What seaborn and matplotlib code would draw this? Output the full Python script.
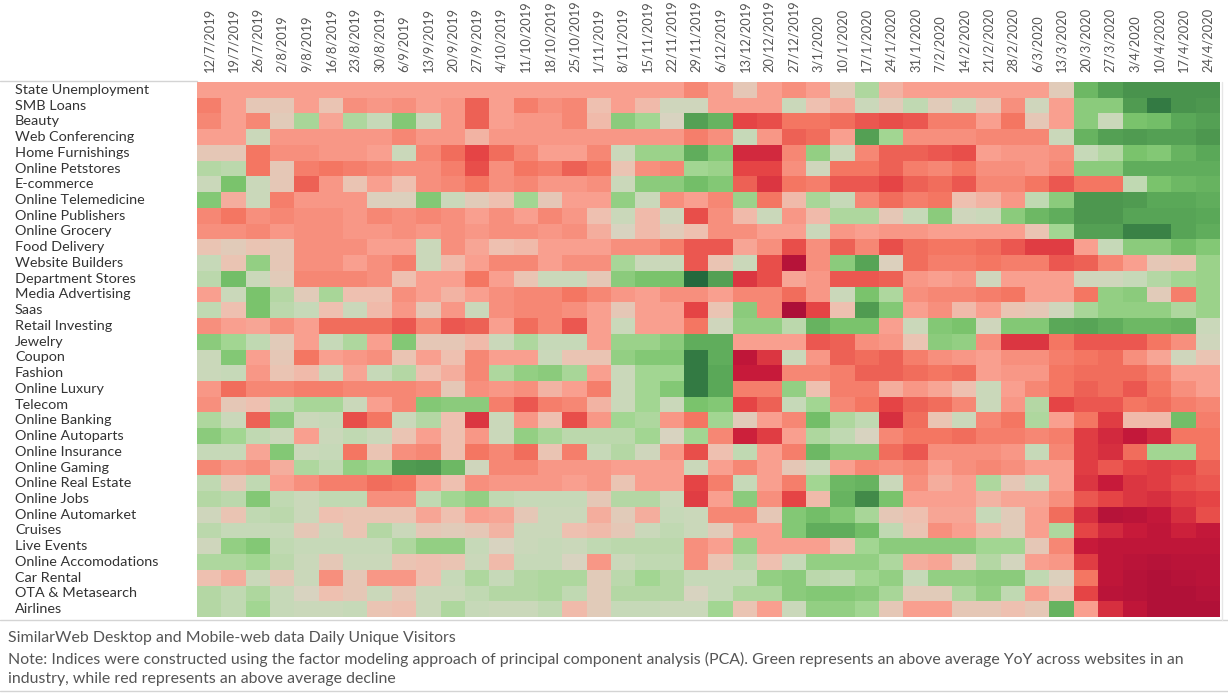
import matplotlib
matplotlib.use("Agg")
import matplotlib.pyplot as plt
from matplotlib.colors import LinearSegmentedColormap
from matplotlib.lines import Line2D
import numpy as np
import pandas as pd
import seaborn as sns

dates = ["12/7/2019", "19/7/2019", "26/7/2019", "2/8/2019", "9/8/2019", "16/8/2019",
         "23/8/2019", "30/8/2019", "6/9/2019", "13/9/2019", "20/9/2019", "27/9/2019",
         "4/10/2019", "11/10/2019", "18/10/2019", "25/10/2019", "1/11/2019", "8/11/2019",
         "15/11/2019", "22/11/2019", "29/11/2019", "6/12/2019", "13/12/2019", "20/12/2019",
         "27/12/2019", "3/1/2020", "10/1/2020", "17/1/2020", "24/1/2020", "31/1/2020",
         "7/2/2020", "14/2/2020", "21/2/2020", "28/2/2020", "6/3/2020", "13/3/2020",
         "20/3/2020", "27/3/2020", "3/4/2020", "10/4/2020", "17/4/2020", "24/4/2020"]

industries = ["State Unemployment", "SMB Loans", "Beauty", "Web Conferencing",
              "Home Furnishings", "Online Petstores", "E-commerce", "Online Telemedicine",
              "Online Publishers", "Online Grocery", "Food Delivery", "Website Builders",
              "Department Stores", "Media Advertising", "Saas", "Retail Investing", "Jewelry",
              "Coupon", "Fashion", "Online Luxury", "Telecom", "Online Banking",
              "Online Autoparts", "Online Insurance", "Online Gaming", "Online Real Estate",
              "Online Jobs", "Online Automarket", "Cruises", "Live Events",
              "Online Accomodations", "Car Rental", "OTA & Metasearch", "Airlines"]

# PCA index values per industry (one per week)
state_unemployment = [-1.0, -1.0, -1.0, -1.0, -1.0, -1.0, -1.0, -1.0, -1.0, -1.0, -1.0, -1.0, -1.0, -1.0,
                      -1.0, -1.0, -1.0, -1.0, -1.0, -1.0, -1.3, -1.0, -0.3, -1.0, -1.2, -1.0, -0.2, 0.8,
                      -0.7, -1.0, -1.0, -1.0, -1.0, -1.0, -1.0, -0.2, 1.7, 2.2, 2.5, 2.5, 2.5, 2.5]
smb_loans = [-1.4, -1.0, -0.3, -0.3, -1.0, -0.4, -1.2, -1.1, -1.2, -1.0, -1.1, -1.7, -1.0, -1.4,
             -1.2, -1.3, -0.5, -1.0, -0.6, 0.2, 0.2, -1.0, -1.0, -1.0, 0.3, -0.5, -0.8, 0.3,
             -0.2, 0.5, -0.2, 0.3, -0.3, -1.2, 0.2, -1.0, 1.3, 1.3, 2.3, 2.8, 2.5, 2.4]
beauty = [-1.3, -1.0, -1.3, -0.2, 0.9, -0.9, 0.8, 0.4, 1.4, 0.3, -1.1, -1.7, -1.0, -1.1,
          -1.1, -1.3, -0.6, 1.3, 1.0, 0.0, 2.2, 1.8, -2.0, -1.9, -1.5, -1.5, -1.6, -1.8,
          -1.9, -1.8, -1.4, -1.4, -1.0, -1.5, -0.3, -1.0, 1.3, 0.3, 1.5, 1.6, 2.0, 2.2]
web_conferencing = [-1.0, -1.0, 0.3, -1.1, -1.1, -1.1, -1.1, -1.1, -1.3, -1.1, -1.1, -0.7, -1.1, -1.1,
                    -1.1, -1.1, -1.1, -1.1, -1.1, -1.1, -1.4, -1.2, 0.4, -1.1, -1.7, -1.6, -1.0, 2.2,
                    1.0, -1.2, -1.2, -1.2, -1.3, -1.3, -1.3, 0.3, 1.8, 2.2, 2.3, 2.2, 2.2, 2.4]
home_furnishings = [-0.3, -0.3, -1.5, -1.2, -1.2, -1.1, -1.1, -1.0, 0.3, -1.3, -1.6, -2.0, -1.6, -1.3,
                    -1.0, -1.0, -1.3, 0.3, 1.1, 1.1, 1.9, 1.4, -2.4, -2.4, -1.3, 1.2, 0.3, -1.3,
                    -1.7, -1.7, -1.8, -1.9, -1.0, -1.1, -1.1, -1.2, 0.4, 0.7, 1.5, 1.4, 1.8, 2.0]
online_petstores = [0.7, 0.6, -1.5, -0.3, -1.4, -1.5, -1.4, -1.3, -1.2, -1.2, -1.4, -1.9, -1.2, -1.5,
                    -1.4, -1.7, -1.5, -0.4, -1.2, -1.3, 1.0, 1.1, -2.0, -2.0, -1.2, 0.2, -1.5, -1.5,
                    -1.7, -1.4, -1.3, -1.5, -1.2, -1.2, -1.1, -1.3, 1.3, 1.3, 1.9, 1.9, 1.9, 1.9]
e_commerce = [0.3, 1.5, 0.3, -0.3, -1.7, -1.1, -0.4, -1.0, -0.5, -1.2, -1.3, -1.5, -1.2, -1.3,
              -1.1, -1.1, -1.2, 0.3, 1.3, 1.3, 1.6, 1.4, -1.7, -2.2, -1.5, -1.4, -1.8, -1.8,
              -2.0, -1.7, -1.6, -1.8, -1.3, -1.3, -1.5, -1.8, -1.5, -1.5, 0.5, 1.5, 1.7, 1.8]
online_telemedicine = [1.4, -0.8, 0.3, -1.4, -1.1, -1.1, -1.1, -0.1, -0.1, 1.4, 0.3, -0.2, -0.5, 1.0,
                       -0.3, -1.0, -1.0, 1.2, 0.3, -1.2, -1.0, -1.3, 1.1, -1.5, -0.6, 0.9, 0.4, -1.3,
                       -1.6, -1.4, -1.5, -0.5, -0.7, -1.1, 0.5, 1.3, 2.4, 2.4, 2.3, 2.0, 2.0, 1.9]
online_publishers = [-1.3, -1.5, -1.2, -1.3, -1.2, -1.2, -1.1, -1.3, -1.2, -1.3, -1.2, -1.0, -1.2, -1.0,
                     -1.3, -1.1, -0.5, 0.3, -0.6, 0.2, -1.9, -1.2, -0.6, 0.3, -1.1, -0.6, 0.8, 0.8,
                     -0.3, 0.4, 1.3, 0.2, 0.3, 1.3, 1.7, 1.9, 2.4, 2.4, 2.1, 2.1, 2.1, 2.0]
online_grocery = [-1.2, -1.2, -1.3, -1.1, -1.2, -1.2, -1.1, -1.1, -1.2, -1.1, -1.2, -1.1, -1.2, -1.2,
                  -1.1, -1.2, -0.8, 0.0, -0.6, -0.2, -0.5, -1.2, -1.2, -1.0, -1.0, 0.3, -1.1, -1.0,
                  -1.1, -1.1, -1.0, -1.0, -1.0, -1.0, -0.4, 1.0, 2.2, 2.2, 2.7, 2.7, 2.1, 1.9]
food_delivery = [-0.4, -0.2, -0.4, -0.3, -1.2, -1.2, -1.2, -1.0, -1.0, 0.3, -1.2, -0.9, -0.5, -0.6,
                 -1.0, -1.0, -1.0, -1.2, -1.2, -1.4, -1.8, -1.8, -0.9, -1.2, -1.9, -1.2, -1.7, -1.3,
                 -1.9, -1.6, -1.5, -1.5, -1.6, -1.8, -2.1, -2.1, -1.0, 0.4, 1.3, 1.3, 1.6, 1.4]
website_builders = [0.4, -0.4, 1.2, -0.3, -1.2, -1.2, -1.0, -1.2, -1.4, 0.3, -0.6, -1.0, -1.3, -1.3,
                    -1.0, -1.2, -1.2, 0.9, 0.3, 0.3, -1.8, -0.4, 0.3, -1.9, -3.0, -1.2, 1.3, 2.1,
                    -0.1, -1.6, -1.4, -1.4, -1.5, -1.4, -1.4, -1.8, -1.7, -1.3, -1.0, -0.3, -0.4, 1.1]
department_stores = [0.6, 1.6, 0.3, -0.2, -1.3, -1.3, -1.3, -1.2, -0.5, -1.0, -1.0, -1.5, -1.0, -0.4,
                     0.3, 0.3, -0.3, 1.3, 1.5, 1.5, 3.0, 2.2, -2.2, -1.9, -0.9, -1.1, -1.8, -1.8,
                     -1.7, -1.1, -1.0, -1.1, 0.2, -1.0, -1.0, -1.0, 0.2, 0.2, 0.4, 0.7, 1.0, 1.1]
media_advertising = [-1.0, 0.3, 1.5, 0.7, -0.2, 0.9, -0.5, -0.5, -1.2, -1.0, -0.7, -1.0, -1.2, -1.3,
                     -1.3, -1.5, -1.3, -1.1, -1.0, -1.2, -1.2, -1.0, -1.3, -1.3, -1.6, -1.1, 0.3, 1.5,
                     0.8, -1.2, -1.3, -1.3, -1.4, -1.5, -1.0, -1.0, -1.5, 1.2, 1.3, -0.2, -1.4, 1.1]
saas = [0.5, -0.5, 1.5, 0.6, 0.4, -0.5, 0.3, -0.6, -1.1, -0.3, -1.1, 0.3, -1.2, -1.3,
        -1.3, -1.2, -1.0, -0.3, -1.0, -1.0, -2.0, -0.4, 1.3, -1.3, -3.2, -2.0, -0.5, 2.3,
        1.4, -1.0, -1.2, -0.6, -1.0, -0.4, -0.3, 0.2, 0.9, 1.2, 1.2, 1.2, 0.8, 1.1]
retail_investing = [-1.2, -1.0, -0.9, -1.2, -1.0, -1.6, -1.6, -1.6, -1.8, -1.3, -1.8, -1.7, -1.0, -1.6,
                    -1.3, -1.8, -1.0, 0.3, -1.0, -1.0, -1.5, 0.2, 1.2, 1.2, 0.6, 1.8, 1.5, 1.5,
                    -1.0, 0.3, 1.4, 1.5, 0.2, 1.4, 1.4, 2.0, 2.1, 1.9, 1.7, 1.7, 1.8, 0.3]
jewelry = [1.3, 1.0, 0.5, -0.2, -1.0, 0.4, 0.8, -1.0, 1.4, -0.3, -0.3, -0.6, 0.3, 0.8,
           0.4, 0.4, -1.0, 1.1, 1.1, 1.3, 1.9, 1.9, -1.0, -1.0, -1.0, -1.8, -1.7, -1.2,
           -1.1, -0.4, 1.3, 1.2, -1.2, -2.2, -2.2, -1.5, -1.8, -1.8, -1.8, -1.5, -1.2, 0.2]
coupon = [0.3, 1.4, -1.0, -0.3, -1.5, -1.0, -1.1, -1.2, -0.4, -1.0, -0.5, -1.3, -1.0, -1.0,
          0.3, -0.4, -0.4, 1.2, 1.4, 1.4, 2.8, 1.9, -2.8, -2.2, 0.3, -1.1, -1.7, -1.6,
          -1.7, -1.4, -1.2, -1.1, -1.0, -1.2, -1.2, -1.4, -1.5, -1.6, -1.2, -0.9, 0.2, -0.4]
fashion = [0.3, 0.4, -1.1, -0.4, -0.6, 0.3, -0.9, 0.4, 0.7, -0.5, -0.8, -1.3, 0.8, 1.2,
           1.3, 0.9, -1.0, 0.3, 1.0, 1.0, 2.8, 2.0, -2.6, -2.6, -1.3, -1.3, -1.4, -1.7,
           -1.7, -1.6, -1.5, -1.6, -1.0, -1.1, -1.1, -1.5, -1.6, -1.6, -1.6, -1.4, -1.0, -1.0]
online_luxury = [-1.1, -1.6, -1.3, -1.3, -1.4, -1.4, -1.3, -1.3, -1.3, -1.2, -0.3, -1.2, -1.1, -1.2,
                 -0.7, -1.0, -1.4, 0.3, 1.0, 1.4, 2.8, 2.0, -1.4, -1.4, 1.2, -0.5, -1.4, -1.4,
                 -0.8, -1.1, -0.9, -0.5, 0.3, -1.0, -1.3, -1.5, -1.7, -1.6, -1.8, -1.5, -1.2, -1.0]
telecom = [-1.2, -0.3, -0.5, 0.5, 0.9, 0.9, 0.3, -1.0, -1.3, 1.4, 1.3, 1.3, -1.4, -1.8,
           -1.4, -1.3, -0.7, 0.3, 1.0, 0.3, 1.5, 1.4, -2.0, -1.7, 0.4, 1.0, -1.3, -1.5,
           -2.0, -1.7, -1.6, -1.3, 0.3, -1.1, 0.7, -2.0, -1.8, -1.8, -1.5, -1.6, -1.4, -1.3]
online_banking = [0.8, 0.3, -1.7, 1.3, 0.3, 0.4, -1.9, -1.5, 0.3, 0.7, -0.5, -2.2, 0.3, -1.1,
                  -0.5, -1.9, -1.1, 1.0, 0.8, -1.1, -1.5, 1.0, -0.2, -1.0, -1.3, 1.6, 0.8, 0.5,
                  -2.3, -1.6, -0.4, 0.3, -1.3, -1.5, 0.8, -1.0, -1.5, -2.1, -0.6, -0.6, 1.6, -1.4]
online_autoparts = [1.3, 1.0, 0.5, 0.3, -1.0, 0.3, 0.5, 0.3, -0.4, -1.0, -0.5, -1.1, 0.3, 1.2,
                    0.9, 0.6, 0.6, 0.6, 1.0, 0.0, 1.0, -1.3, -2.5, -2.1, -1.0, 0.8, 0.5, 0.0,
                    -1.3, -1.5, -1.5, -1.6, -1.4, -1.4, -1.3, -1.4, -2.1, -2.4, -2.7, -2.4, -1.5, -1.5]
online_insurance = [0.4, 0.4, -0.9, 1.4, 0.3, 0.4, -1.5, -0.4, -1.2, -1.3, -0.5, -1.5, -1.3, -1.6,
                    -0.4, -1.4, 0.4, 0.7, 0.2, -1.1, -1.9, -0.5, 0.5, -1.0, -1.4, 1.7, 1.3, 1.3,
                    -1.6, -1.8, -1.2, -1.2, -1.2, -1.1, 0.4, -1.3, -2.1, -2.3, -1.6, 1.0, 1.0, -1.5]
online_gaming = [-1.3, -1.1, -1.2, -0.8, 0.8, 0.5, 1.2, 1.0, 2.3, 2.4, 1.7, 0.2, -1.3, -1.3,
                 -1.1, -1.1, -1.1, -1.0, -1.0, -1.0, 0.3, -1.0, -1.3, -1.0, -0.3, 0.3, -1.0, -1.3,
                 -1.2, -1.3, -1.0, -1.2, -1.3, -1.2, -1.0, -1.0, -2.1, -1.8, -2.0, -2.1, -2.0, -1.7]
online_real_estate = [0.5, -0.3, 0.5, -1.0, -1.2, -1.4, -1.4, -1.6, -1.5, -1.0, -0.5, -1.2, -1.1, -1.1,
                      -1.1, -1.0, -1.1, -0.4, -1.0, -1.0, -2.0, -1.4, 0.4, -1.0, -1.4, 1.0, 1.7, 1.8,
                      0.3, -1.2, -0.8, -1.0, 0.8, -0.3, 0.3, -1.0, -2.2, -2.6, -2.2, -2.1, -1.9, -1.8]
online_jobs = [0.7, 0.6, 1.4, 0.5, 0.3, 0.5, 0.5, -1.2, -1.2, 0.5, 1.0, 1.2, 0.5, 0.4,
               0.4, 0.4, -0.3, 0.7, 0.7, 0.3, -2.1, -1.0, 1.3, -1.2, -2.0, -0.6, 1.8, 2.6,
               1.5, -1.0, -1.0, -1.0, -0.7, -0.9, -0.9, -1.2, -1.8, -2.0, -2.2, -2.3, -2.1, -2.0]
online_automarket = [0.2, -0.4, 0.5, 0.6, 0.3, -0.5, -0.4, -0.4, -0.4, -0.9, -0.5, -1.0, -0.9, -0.3,
                     0.3, 0.3, -0.8, -0.2, -0.8, 0.4, 0.3, -1.3, -1.3, -0.3, 1.4, 1.6, 1.4, 0.9,
                     -0.3, -0.5, -0.9, -0.9, 0.4, -0.2, -1.0, -1.6, -2.3, -3.0, -2.9, -2.7, -2.3, -1.9]
cruises = [0.6, 0.4, 0.4, 0.4, -0.3, 0.3, -0.4, 0.7, 0.3, -0.3, -0.2, -0.3, -0.7, 0.3,
           0.3, -0.5, -0.6, -0.3, 0.3, 0.5, 0.3, -0.2, -1.0, -1.0, 1.4, 1.9, 1.9, 1.6,
           0.5, -0.4, -1.2, -1.0, -0.6, -0.2, -1.0, 0.8, -2.0, -2.4, -2.6, -2.8, -2.5, -2.7]
live_events = [0.2, 1.2, 1.4, 0.5, 0.4, 0.4, 0.4, 0.4, 0.8, 1.2, 1.2, 0.4, 0.0, 0.3,
               0.4, 0.3, 0.5, 0.6, 0.6, 0.6, -1.2, -1.0, 1.1, -1.0, -1.0, -1.0, -0.5, 1.0,
               1.3, 1.3, 1.3, 1.3, 1.0, 1.0, -0.3, -1.3, -2.6, -2.8, -2.8, -2.8, -2.8, -2.8]
online_accomodations = [0.8, 0.8, 1.0, 0.6, 0.3, -0.3, 0.3, 0.3, -0.4, -0.5, -0.4, 0.3, -0.6, 0.4,
                        0.4, 0.0, -1.1, 0.3, 0.5, 0.5, -1.2, -0.4, 0.6, -0.5, 0.4, 1.2, 1.2, 1.2,
                        0.8, -0.8, -0.9, -0.2, 0.7, 0.1, -1.0, -1.1, -2.1, -2.8, -2.9, -3.0, -2.9, -2.9]
car_rental = [-0.5, -0.8, 0.3, -0.3, 0.3, -1.2, -0.3, -1.1, -1.1, -0.5, 0.4, 0.8, 0.4, 0.7,
              0.8, 0.8, -0.2, 0.6, 1.0, 0.7, 0.4, 0.4, 0.4, 1.2, 1.3, 0.6, 0.5, 1.0,
              1.2, 0.4, 1.2, 1.2, 1.3, 1.3, 0.5, -0.1, -1.5, -2.8, -3.0, -3.1, -3.0, -2.9]
ota_metasearch = [0.7, 0.5, 0.8, 0.4, 0.0, -0.5, -0.3, 0.3, -0.3, 0.3, 0.3, 0.5, 0.7, 0.7,
                  0.8, 0.5, -0.2, 0.7, 0.7, 0.7, 0.0, 0.4, 0.8, 0.8, 1.3, 1.4, 1.4, 1.3,
                  0.9, -0.2, -0.2, 0.8, 1.2, 0.5, -1.0, -0.5, -2.0, -2.9, -3.0, -3.1, -3.1, -3.0]
airlines = [0.7, 0.5, 1.0, 0.4, 0.3, 0.3, 0.4, -0.4, -0.5, 0.3, 0.8, 0.4, 0.3, 0.3,
            0.5, -0.6, -0.2, 0.4, 0.4, 0.3, 0.3, 1.0, -0.4, -1.0, 0.3, 1.2, 1.2, 1.0,
            -0.3, -1.0, -1.0, -0.3, -0.3, -0.5, -0.3, 1.8, -1.0, -2.3, -2.8, -3.1, -3.1, -3.1]

rows = [state_unemployment, smb_loans, beauty, web_conferencing, home_furnishings,
        online_petstores, e_commerce, online_telemedicine, online_publishers, online_grocery,
        food_delivery, website_builders, department_stores, media_advertising, saas,
        retail_investing, jewelry, coupon, fashion, online_luxury, telecom, online_banking,
        online_autoparts, online_insurance, online_gaming, online_real_estate, online_jobs,
        online_automarket, cruises, live_events, online_accomodations, car_rental,
        ota_metasearch, airlines]

df = pd.DataFrame(np.array(rows), index=industries, columns=dates)

vmin, vmax = -3.2, 3.0
nodes = [(-3.2, "#ad0f38"), (-2.6, "#c81a3a"), (-2.0, "#e54545"), (-1.5, "#f47662"),
         (-1.0, "#f9a090"), (-0.5, "#eec0b0"), (0.0, "#d8d3c0"), (0.4, "#c6d9b8"),
         (1.0, "#a3d692"), (1.5, "#7bc46d"), (2.0, "#5aa858"), (2.5, "#4a944d"),
         (3.0, "#24693d")]
cmap = LinearSegmentedColormap.from_list(
    "tab_rg", [((v - vmin) / (vmax - vmin), c) for v, c in nodes])

sns.set_theme(style="white")
plt.rcParams["font.family"] = ["Lato", "DejaVu Sans"]

W, H = 1228, 694
fig = plt.figure(figsize=(W / 100, H / 100), dpi=100)
x0, x1, y0, y1 = 197, 1220, 82, 617
ax = fig.add_axes([x0 / W, 1 - y1 / H, (x1 - x0) / W, (y1 - y0) / H])

sns.heatmap(df, cmap=cmap, vmin=vmin, vmax=vmax, cbar=False, ax=ax,
            xticklabels=True, yticklabels=True, linewidths=0)

ax.set_xlabel("")
ax.set_ylabel("")
ax.xaxis.tick_top()
ax.tick_params(axis="x", top=False, bottom=False, labeltop=True, labelbottom=False,
               length=0, pad=7, labelsize=9.3, labelcolor="#555555")
for lbl in ax.get_xticklabels():
    lbl.set_rotation(90)
    lbl.set_ha("center")
    lbl.set_va("bottom")

ax.tick_params(axis="y", left=False, length=0, pad=(x0 - 15) * 0.72,
               labelsize=10.4, labelcolor="#333333")
for lbl in ax.get_yticklabels():
    lbl.set_rotation(0)
    lbl.set_ha("left")
    lbl.set_va("center")

for s in ax.spines.values():
    s.set_visible(False)

line_color = "#d4d4d4"
fig.add_artist(Line2D([0, x0 / W], [1 - 81 / H] * 2, color=line_color, lw=1.0,
                      transform=fig.transFigure))
fig.add_artist(Line2D([0, 1], [1 - 619.5 / H] * 2, color=line_color, lw=1.0,
                      transform=fig.transFigure))
fig.add_artist(Line2D([0, 1], [1 - 691 / H] * 2, color=line_color, lw=1.0,
                      transform=fig.transFigure))
fig.add_artist(Line2D([1222 / W] * 2, [1 - 82 / H, 1 - 619.5 / H], color="#e6e6e6", lw=1.0,
                      transform=fig.transFigure))

foot_kw = dict(fontsize=11.4, color="#555555", ha="left", va="center")
fig.text(8 / W, 1 - 638 / H, "SimilarWeb Desktop and Mobile-web data Daily Unique Visitors",
         **foot_kw)
fig.text(8 / W, 1 - 659 / H,
         "Note: Indices were constructed using the factor modeling approach of principal "
         "component analysis (PCA). Green represents an above average YoY across websites in an",
         **foot_kw)
fig.text(8 / W, 1 - 679 / H,
         "industry, while red represents an above average decline", **foot_kw)

fig.savefig("out.png", dpi=100)
